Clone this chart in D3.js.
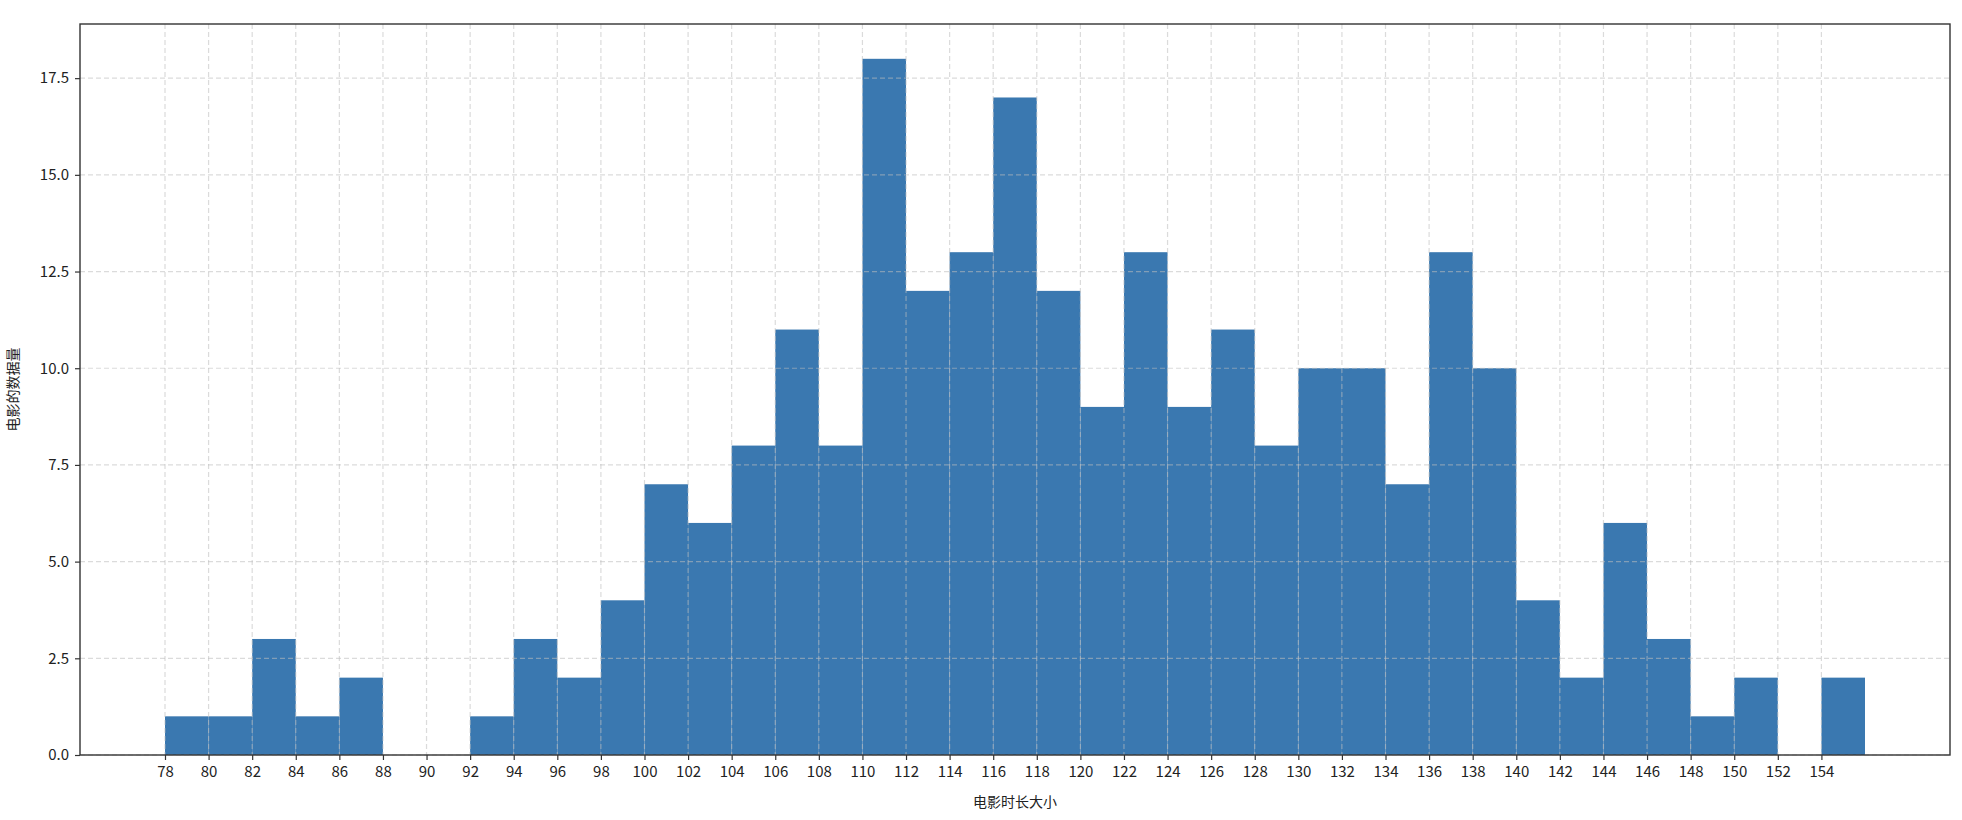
<!DOCTYPE html>
<html>
<head>
<meta charset="utf-8">
<script src="https://cdn.jsdelivr.net/npm/d3@7"></script>
<style>
  body { margin: 0; background: #fff; }
  text { font-family: "Noto Sans CJK SC", "DejaVu Sans", sans-serif; fill: #222; }
</style>
</head>
<body>
<svg id="chart" width="1962" height="820"></svg>
<script>
// histogram bins: left edge of each bin (width 2), count of movies
var bin_edges = [78, 80, 82, 84, 86, 88, 90, 92, 94, 96, 98, 100, 102, 104, 106, 108, 110, 112, 114, 116,
                 118, 120, 122, 124, 126, 128, 130, 132, 134, 136, 138, 140, 142, 144, 146, 148, 150, 152, 154];
var bin_counts = [1, 1, 3, 1, 2, 0, 0, 1, 3, 2, 4, 7, 6, 8, 11, 8, 18, 12, 13, 17,
                  12, 9, 13, 9, 11, 8, 10, 10, 7, 13, 10, 4, 2, 6, 3, 1, 2, 0, 2];
var bin_width = 2;
var x_ticks = d3.range(78, 156, 2);
var y_ticks = [0, 2.5, 5, 7.5, 10, 12.5, 15, 17.5];
var x_label = '电影时长大小';
var y_label = '电影的数据量';

var margin = {top: 24, right: 12, bottom: 65, left: 80};
var width = 1962 - margin.left - margin.right;
var height = 820 - margin.top - margin.bottom;

var svg = d3.select('#chart');
var g = svg.append('g')
    .attr('transform', 'translate(' + margin.left + ',' + margin.top + ')');

// matplotlib style 5% padding around data
var x_min = bin_edges[0], x_max = bin_edges[bin_edges.length - 1] + bin_width;
var pad = (x_max - x_min) * 0.05;
var x = d3.scaleLinear().domain([x_min - pad, x_max + pad]).range([0, width]);
var y = d3.scaleLinear().domain([0, d3.max(bin_counts) * 1.05]).range([height, 0]);

var bins = bin_edges.map(function(e, i){ return {x0: e, x1: e + bin_width, n: bin_counts[i]}; });

g.selectAll('rect.bar')
    .data(bins)
    .enter()
    .append('rect')
    .classed('bar', true)
    .attr('x', function(d){ return x(d.x0); })
    .attr('width', function(d){ return x(d.x1) - x(d.x0); })
    .attr('y', function(d){ return y(d.n); })
    .attr('height', function(d){ return height - y(d.n); })
    .attr('fill', '#3a78b0');

// grid sits on top of the bars
var grid = g.append('g').attr('class', 'grid');
grid.selectAll('line.gx')
    .data(x_ticks)
    .enter()
    .append('line')
    .attr('x1', function(d){ return x(d); })
    .attr('x2', function(d){ return x(d); })
    .attr('y1', 0)
    .attr('y2', height);
grid.selectAll('line.gy')
    .data(y_ticks)
    .enter()
    .append('line')
    .attr('x1', 0)
    .attr('x2', width)
    .attr('y1', function(d){ return y(d); })
    .attr('y2', function(d){ return y(d); });
grid.selectAll('line')
    .attr('stroke', 'rgba(190,190,190,0.55)')
    .attr('stroke-width', 1.2)
    .attr('stroke-dasharray', '5,3');

var x_axis = g.append('g')
    .attr('transform', 'translate(0,' + height + ')')
    .call(d3.axisBottom(x).tickValues(x_ticks).tickSize(5).tickPadding(6).tickFormat(d3.format('d')));
var y_axis = g.append('g')
    .call(d3.axisLeft(y).tickValues(y_ticks).tickSize(5).tickPadding(6).tickFormat(d3.format('.1f')));

[x_axis, y_axis].forEach(function(ax){
  ax.select('.domain').remove();
  ax.selectAll('.tick line').attr('stroke', '#333').attr('stroke-width', 1.2);
  ax.selectAll('.tick text').style('font-size', '15px').style('font-family', '"Noto Sans CJK SC", sans-serif').attr('fill', '#222');
});

// frame
g.append('rect')
    .attr('width', width)
    .attr('height', height)
    .attr('fill', 'none')
    .attr('stroke', '#333')
    .attr('stroke-width', 1.4);

g.append('text')
    .attr('x', width / 2)
    .attr('y', height + 52)
    .attr('text-anchor', 'middle')
    .style('font-size', '14px')
    .text(x_label);

g.append('text')
    .attr('transform', 'translate(' + (-62) + ',' + (height / 2) + ') rotate(-90)')
    .attr('text-anchor', 'middle')
    .style('font-size', '14px')
    .text(y_label);
</script>
</body>
</html>
